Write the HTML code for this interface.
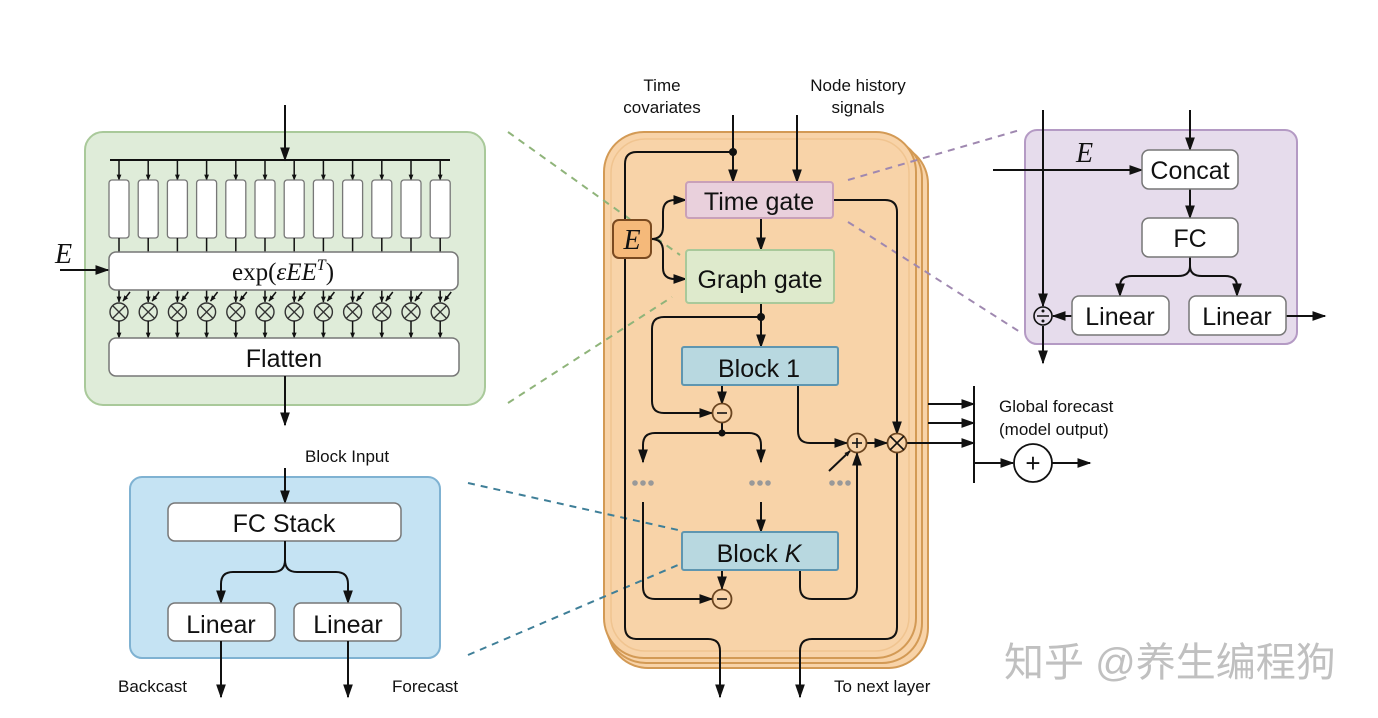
<!DOCTYPE html>
<html><head><meta charset="utf-8"><style>
html,body{margin:0;padding:0;background:#fff;}
svg{display:block;}
text{font-family:"Liberation Sans","Noto Sans CJK SC",sans-serif;fill:#111;}
.serif{font-family:"Liberation Serif","DejaVu Serif",serif;}
</style></head><body>
<svg id="s" width="1378" height="718" viewBox="0 0 1378 718" xmlns="http://www.w3.org/2000/svg">
<defs>
<marker id="a" viewBox="0 0 10 10" refX="9" refY="5" markerWidth="7" markerHeight="7" orient="auto-start-reverse" markerUnits="userSpaceOnUse"><path d="M0,1 L10,5 L0,9 z" fill="#111"/></marker>
<marker id="b" viewBox="0 0 10 10" refX="9" refY="5" markerWidth="14" markerHeight="14" orient="auto" markerUnits="userSpaceOnUse"><path d="M0,1.5 L10,5 L0,8.5 z" fill="#111"/></marker>
<marker id="s5" viewBox="0 0 10 10" refX="9" refY="5" markerWidth="6" markerHeight="6" orient="auto" markerUnits="userSpaceOnUse"><path d="M0,1 L10,5 L0,9 z" fill="#111"/></marker>
</defs>

<!-- Green panel -->
<rect x="85" y="132" width="400" height="273" rx="18" fill="#dfecd9" stroke="#a9c99a" stroke-width="2"/>
<line x1="285" y1="105" x2="285" y2="160" stroke="#111" stroke-width="2" marker-end="url(#b)"/>
<line x1="110" y1="160" x2="450" y2="160" stroke="#111" stroke-width="2"/>
<g id="cols"></g>
<rect x="109" y="252" width="349" height="38" rx="7" fill="#fff" stroke="#777" stroke-width="1.5"/>
<text x="283" y="280" text-anchor="middle" class="serif" font-size="25">exp(<tspan font-style="italic">εEE</tspan><tspan font-style="italic" font-size="16" dy="-10">T</tspan><tspan dy="10">)</tspan></text>
<rect x="109" y="338" width="350" height="38" rx="7" fill="#fff" stroke="#777" stroke-width="1.5"/>
<text x="284" y="367" text-anchor="middle" font-size="25">Flatten</text>
<line x1="285" y1="376" x2="285" y2="425" stroke="#111" stroke-width="2" marker-end="url(#b)"/>
<text x="55" y="263" class="serif" font-style="italic" font-size="28">E</text>
<line x1="60" y1="270" x2="108" y2="270" stroke="#111" stroke-width="2" marker-end="url(#b)"/>

<!-- Blue panel -->
<text x="305" y="462" font-size="17">Block Input</text>
<rect x="130" y="477" width="310" height="181" rx="12" fill="#c5e3f3" stroke="#7fb2d2" stroke-width="2"/>
<line x1="285" y1="468" x2="285" y2="503" stroke="#111" stroke-width="2" marker-end="url(#b)"/>
<rect x="168" y="503" width="233" height="38" rx="7" fill="#fff" stroke="#777" stroke-width="1.5"/>
<text x="284" y="532" text-anchor="middle" font-size="25">FC Stack</text>
<path d="M285,541 V560 Q285,572 273,572 H233 Q221,572 221,584 V603" stroke="#111" stroke-width="2" fill="none" marker-end="url(#b)"/>
<path d="M285,560 Q285,572 297,572 H336 Q348,572 348,584 V603" stroke="#111" stroke-width="2" fill="none" marker-end="url(#b)"/>
<rect x="168" y="603" width="107" height="38" rx="7" fill="#fff" stroke="#777" stroke-width="1.5"/>
<text x="221" y="633" text-anchor="middle" font-size="25">Linear</text>
<rect x="294" y="603" width="107" height="38" rx="7" fill="#fff" stroke="#777" stroke-width="1.5"/>
<text x="348" y="633" text-anchor="middle" font-size="25">Linear</text>
<line x1="221" y1="641" x2="221" y2="697" stroke="#111" stroke-width="2" marker-end="url(#b)"/>
<line x1="348" y1="641" x2="348" y2="697" stroke="#111" stroke-width="2" marker-end="url(#b)"/>
<text x="118" y="692" font-size="17">Backcast</text>
<text x="392" y="692" font-size="17">Forecast</text>

<!-- Orange stack -->
<rect x="608" y="144" width="320" height="524" rx="40" fill="#f8d3a8" stroke="#d39a55" stroke-width="2"/>
<rect x="606" y="138" width="316" height="525" rx="40" fill="#f8d3a8" stroke="#d39a55" stroke-width="2"/>
<rect x="604" y="132" width="312" height="526" rx="40" fill="#f8d3a8" stroke="#d39a55" stroke-width="2"/>
<rect x="611" y="139" width="298" height="512" rx="34" fill="none" stroke="#f0c490" stroke-width="1.5"/>

<!-- dashed connectors -->
<g stroke-width="2" stroke-dasharray="7,6" fill="none">
<line x1="508" y1="132" x2="680" y2="255" stroke="#8fb47a"/>
<line x1="508" y1="403" x2="672" y2="297" stroke="#8fb47a"/>
<line x1="848" y1="180" x2="1020" y2="130" stroke="#9f88b0"/>
<line x1="848" y1="222" x2="1020" y2="332" stroke="#9f88b0"/>
<line x1="468" y1="483" x2="678" y2="530" stroke="#3f7f98"/>
<line x1="468" y1="655" x2="678" y2="565" stroke="#3f7f98"/>
</g>

<text x="662" y="91" text-anchor="middle" font-size="17">Time</text>
<text x="662" y="113" text-anchor="middle" font-size="17">covariates</text>
<text x="858" y="91" text-anchor="middle" font-size="17">Node history</text>
<text x="858" y="113" text-anchor="middle" font-size="17">signals</text>

<g stroke="#111" stroke-width="2" fill="none">
<line x1="733" y1="115" x2="733" y2="182" marker-end="url(#b)"/>
<line x1="797" y1="115" x2="797" y2="182" marker-end="url(#b)"/>
<path d="M733,152 H637 Q625,152 625,164 V627 Q625,639 637,639 H708 Q720,639 720,651 V697" marker-end="url(#b)"/>
<path d="M833,200 H885 Q897,200 897,212 V434" marker-end="url(#b)"/>
<path d="M897,452 V627 Q897,639 885,639 H812 Q800,639 800,651 V697" marker-end="url(#b)"/>
<line x1="761" y1="218" x2="761" y2="250" marker-end="url(#b)"/>
<path d="M651,239 Q663,239 663,227 V212 Q663,200 675,200 H686" marker-end="url(#b)"/>
<path d="M651,239 Q663,239 663,251 V268 Q663,279 675,279 H686" marker-end="url(#b)"/>
<line x1="761" y1="303" x2="761" y2="347" marker-end="url(#b)"/>
<path d="M761,317 H664 Q652,317 652,329 V401 Q652,413 664,413 H712" marker-end="url(#b)"/>
<line x1="722" y1="385" x2="722" y2="404" marker-end="url(#b)"/>
<line x1="722" y1="422" x2="722" y2="433"/>
<path d="M722,433 H655 Q643,433 643,445 V462" marker-end="url(#b)"/>
<path d="M722,433 H749 Q761,433 761,445 V462" marker-end="url(#b)"/>
<path d="M643,502 V587 Q643,599 655,599 H712" marker-end="url(#b)"/>
<line x1="761" y1="502" x2="761" y2="532" marker-end="url(#b)"/>
<line x1="722" y1="570" x2="722" y2="589" marker-end="url(#b)"/>
<path d="M798,385 V431 Q798,443 810,443 H847" marker-end="url(#b)"/>
<path d="M800,570 V587 Q800,599 812,599 H845 Q857,599 857,587 V453" marker-end="url(#b)"/>
<line x1="829" y1="471" x2="850" y2="451" marker-end="url(#s5)"/>
<line x1="866" y1="443" x2="887" y2="443" marker-end="url(#b)"/>
<line x1="906" y1="443" x2="974" y2="443" marker-end="url(#b)"/>
<line x1="928" y1="404" x2="974" y2="404" marker-end="url(#b)"/>
<line x1="928" y1="423" x2="974" y2="423" marker-end="url(#b)"/>
<line x1="974" y1="386" x2="974" y2="483"/>
<line x1="974" y1="463" x2="1013" y2="463" marker-end="url(#b)"/>
<line x1="1052" y1="463" x2="1090" y2="463" marker-end="url(#b)"/>
</g>
<circle cx="733" cy="152" r="4" fill="#111"/>
<circle cx="761" cy="317" r="4" fill="#111"/>
<circle cx="722" cy="433" r="3.5" fill="#111"/>

<rect x="613" y="220" width="38" height="38" rx="6" fill="#f5b97a" stroke="#7a4a20" stroke-width="2"/>
<text x="632" y="249" text-anchor="middle" class="serif" font-style="italic" font-size="28">E</text>

<rect x="686" y="182" width="147" height="36" rx="3" fill="#e9d0dc" stroke="#c9a0b8" stroke-width="2"/>
<text x="759" y="210" text-anchor="middle" font-size="25">Time gate</text>
<rect x="686" y="250" width="148" height="53" rx="3" fill="#deeacc" stroke="#a9c99a" stroke-width="2"/>
<text x="760" y="288" text-anchor="middle" font-size="25">Graph gate</text>
<rect x="682" y="347" width="156" height="38" rx="2" fill="#b8d8e0" stroke="#5f96b0" stroke-width="2"/>
<text x="759" y="377" text-anchor="middle" font-size="25">Block 1</text>
<rect x="682" y="532" width="156" height="38" rx="2" fill="#b8d8e0" stroke="#5f96b0" stroke-width="2"/>
<text x="759" y="562" text-anchor="middle" font-size="25">Block <tspan font-style="italic">K</tspan></text>

<g fill="#f8d3a8" stroke="#6b4520" stroke-width="1.8">
<circle cx="722" cy="413" r="9.5"/><circle cx="722" cy="599" r="9.5"/>
<circle cx="857" cy="443" r="9.5"/><circle cx="897" cy="443" r="9.5"/>
</g>
<g stroke="#111" stroke-width="1.6">
<line x1="717" y1="413" x2="727" y2="413"/><line x1="717" y1="599" x2="727" y2="599"/>
<line x1="852" y1="443" x2="862" y2="443"/><line x1="857" y1="438" x2="857" y2="448"/>
<line x1="890" y1="436" x2="904" y2="450"/><line x1="904" y1="436" x2="890" y2="450"/>
</g>
<g fill="#999">
<circle cx="635" cy="483" r="2.8"/><circle cx="643" cy="483" r="2.8"/><circle cx="651" cy="483" r="2.8"/>
<circle cx="752" cy="483" r="2.8"/><circle cx="760" cy="483" r="2.8"/><circle cx="768" cy="483" r="2.8"/>
<circle cx="832" cy="483" r="2.8"/><circle cx="840" cy="483" r="2.8"/><circle cx="848" cy="483" r="2.8"/>
</g>

<circle cx="1033" cy="463" r="19" fill="#fff" stroke="#111" stroke-width="1.8"/>
<text x="1033" y="472" text-anchor="middle" font-size="26">+</text>
<text x="999" y="412" font-size="17">Global forecast</text>
<text x="999" y="435" font-size="17">(model output)</text>

<!-- Purple panel -->
<rect x="1025" y="130" width="272" height="214" rx="12" fill="#e6dcec" stroke="#b49ac4" stroke-width="2"/>
<text x="1076" y="162" class="serif" font-style="italic" font-size="28">E</text>
<g stroke="#111" stroke-width="2" fill="none">
<line x1="1043" y1="110" x2="1043" y2="306" marker-end="url(#b)"/>
<line x1="1043" y1="326" x2="1043" y2="363" marker-end="url(#b)"/>
<line x1="993" y1="170" x2="1142" y2="170" marker-end="url(#b)"/>
<line x1="1190" y1="110" x2="1190" y2="150" marker-end="url(#b)"/>
<line x1="1190" y1="189" x2="1190" y2="218" marker-end="url(#b)"/>
<path d="M1190,257 V266 Q1190,276 1178,276 H1132 Q1120,276 1120,286 V296" marker-end="url(#b)"/>
<path d="M1190,266 Q1190,276 1202,276 H1225 Q1237,276 1237,286 V296" marker-end="url(#b)"/>
<line x1="1072" y1="316" x2="1053" y2="316" marker-end="url(#b)"/>
<line x1="1286" y1="316" x2="1325" y2="316" marker-end="url(#b)"/>
</g>
<circle cx="1043" cy="316" r="9" fill="#e6dcec" stroke="#111" stroke-width="1.6"/>
<line x1="1037" y1="316" x2="1049" y2="316" stroke="#111" stroke-width="1.5"/>
<circle cx="1043" cy="311" r="1.5" fill="#111"/><circle cx="1043" cy="321" r="1.5" fill="#111"/>
<rect x="1142" y="150" width="96" height="39" rx="7" fill="#fff" stroke="#777" stroke-width="1.5"/>
<text x="1190" y="179" text-anchor="middle" font-size="25">Concat</text>
<rect x="1142" y="218" width="96" height="39" rx="7" fill="#fff" stroke="#777" stroke-width="1.5"/>
<text x="1190" y="247" text-anchor="middle" font-size="25">FC</text>
<rect x="1072" y="296" width="97" height="39" rx="7" fill="#fff" stroke="#777" stroke-width="1.5"/>
<text x="1120" y="325" text-anchor="middle" font-size="25">Linear</text>
<rect x="1189" y="296" width="97" height="39" rx="7" fill="#fff" stroke="#777" stroke-width="1.5"/>
<text x="1237" y="325" text-anchor="middle" font-size="25">Linear</text>

<text x="834" y="692" font-size="17">To next layer</text>
<text x="1004" y="676" font-size="40" style="fill:#c0c0c0;font-family:'Liberation Sans','Noto Sans CJK SC',sans-serif">知乎 @养生编程狗</text>
</svg>
<script>
(function(){
var g=document.getElementById('cols'),h='';
for(var i=0;i<12;i++){
var x=119+i*29.2;
h+='<line x1="'+x+'" y1="160" x2="'+x+'" y2="180" stroke="#111" stroke-width="1.5" marker-end="url(#s5)"/>';
h+='<rect x="'+(x-10)+'" y="180" width="20" height="58" rx="3" fill="#fff" stroke="#777" stroke-width="1.3"/>';
h+='<line x1="'+x+'" y1="238" x2="'+x+'" y2="252" stroke="#111" stroke-width="1.5"/>';
h+='<line x1="'+x+'" y1="290" x2="'+x+'" y2="302" stroke="#111" stroke-width="1.5" marker-end="url(#s5)"/>';
h+='<line x1="'+(x+11)+'" y1="292" x2="'+(x+4)+'" y2="301" stroke="#111" stroke-width="1.5" marker-end="url(#s5)"/>';
h+='<circle cx="'+x+'" cy="312" r="9" fill="#dfecd9" stroke="#333" stroke-width="1.4"/>';
h+='<line x1="'+(x-6)+'" y1="306" x2="'+(x+6)+'" y2="318" stroke="#333" stroke-width="1.3"/>';
h+='<line x1="'+(x+6)+'" y1="306" x2="'+(x-6)+'" y2="318" stroke="#333" stroke-width="1.3"/>';
h+='<line x1="'+x+'" y1="321" x2="'+x+'" y2="338" stroke="#111" stroke-width="1.5" marker-end="url(#s5)"/>';
}
g.innerHTML=h;
})();
</script>
</body></html>
